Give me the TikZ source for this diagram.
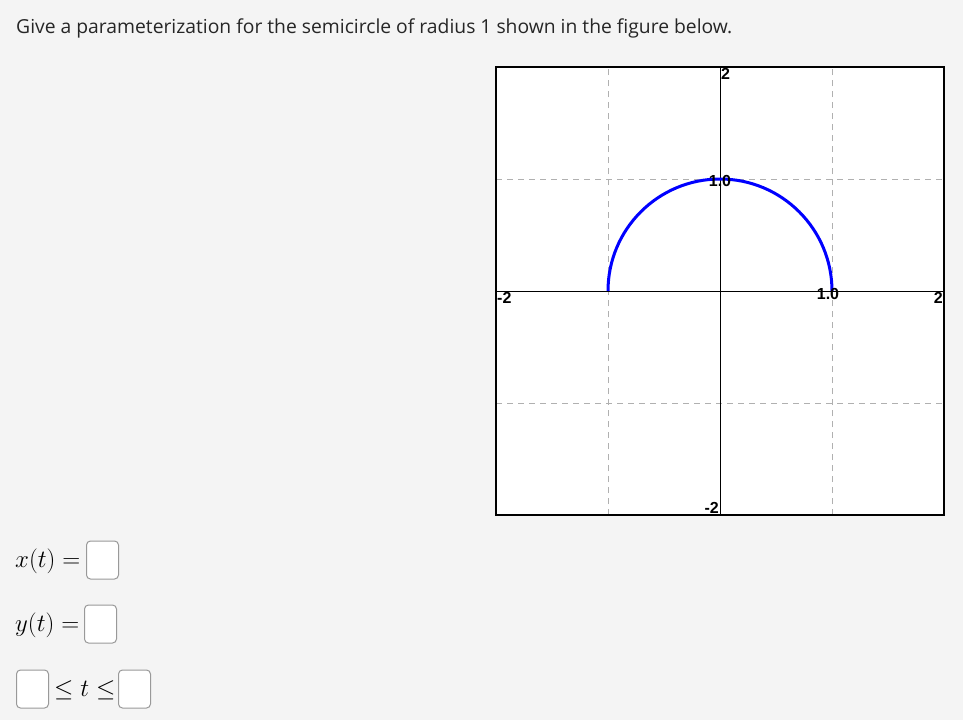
\documentclass[tikz,border=0pt]{standalone}
\usepackage{fontspec}
\usepackage{amsmath,amssymb}
\setsansfont{Open Sans}
\newfontfamily\ticklbl{Liberation Sans}
\definecolor{pagebg}{HTML}{F4F4F4}
\definecolor{boxline}{HTML}{999999}
\definecolor{gridgray}{HTML}{B0B0B0}
\tikzset{
  ansbox/.style={draw=boxline, fill=white, rounded corners=4pt, line width=1pt,
    minimum width=32pt, minimum height=38pt, inner sep=0pt},
  tick/.style={font=\ticklbl\bfseries\fontsize{16}{16}\selectfont, inner sep=1pt},
  eqn/.style={font=\fontsize{26}{30}\selectfont, inner sep=0pt}
}
\begin{document}
\begin{tikzpicture}[x=1pt, y=-1pt]
  \fill[pagebg] (0,0) rectangle (963,720);
  \useasboundingbox (0,0) rectangle (963,720);

  \node[anchor=west, inner sep=0pt, font=\sffamily\fontsize{19.3}{23}\selectfont, text=black!85]
    (question) at (16,28) {Give a parameterization for the semicircle of radius 1 shown in the figure below.};

  % the plot
  \begin{scope}[shift={(720,291)}, x=112pt, y=112pt]
    \fill[white] (-2,-2) rectangle (2,2);
    \draw[gridgray, line width=1pt, dash pattern=on 6pt off 5pt]
      (-1,-2) -- (-1,2) (1,-2) -- (1,2) (-2,-1) -- (2,-1) (-2,1) -- (2,1);
    \draw[line width=1pt] (-2,0) -- (2,0) (0,-2) -- (0,2);
    \draw[blue, line width=3pt] (-1,0) arc[start angle=180, end angle=0, radius=1];
    \draw[line width=1.3pt] (-2,-2) rectangle (2,2);

    \node[tick, anchor=north west] (ytop) at (0,2) {2};
    \node[tick, anchor=south east] (ybot) at (0,-2) {-2};
    \node[tick, anchor=north west] (xleft) at (-2,0) {-2};
    \node[tick, anchor=north east] (xright) at (2,0) {2};
    \node[tick] (yone) at (0,0.98) {1.0};
    \node[tick] (xone) at (0.964,-0.027) {1.0};
  \end{scope}

  % answer rows
  \node[eqn, anchor=west] (xeq) at (15,561) {$x(t) =$};
  \node[ansbox, anchor=west] (xans) at (86,560) {};
  \node[eqn, anchor=west] (yeq) at (15,625) {$y(t) =$};
  \node[ansbox, anchor=west] (yans) at (84,624) {};
  \node[ansbox, anchor=west] (tlow) at (16,689) {};
  \node[eqn, anchor=west] (tineq) at (54,690) {$\leq t \leq$};
  \node[ansbox, anchor=west] (thigh) at (118,689) {};
\end{tikzpicture}
\end{document}
